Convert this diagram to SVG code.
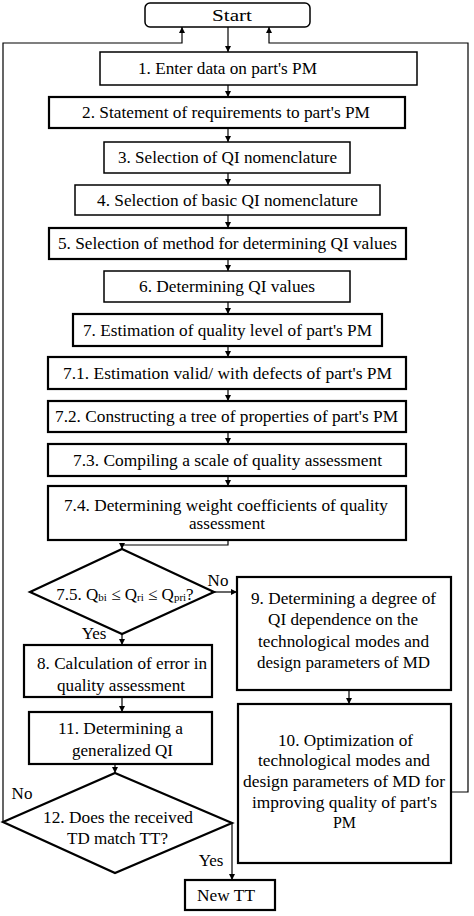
<svg xmlns="http://www.w3.org/2000/svg" width="474" height="916" viewBox="0 0 474 916">
<style>
.b{fill:#fff;stroke:#000;stroke-width:1.5}
.k{fill:#fff;stroke:#000;stroke-width:2.2}
.c{fill:none;stroke:#000;stroke-width:1.2}
text{font-family:'Liberation Serif','DejaVu Serif',serif;font-size:17px;fill:#000;text-anchor:middle;dominant-baseline:central}
.s{font-size:11px}
</style>
<defs>
<marker id="a" viewBox="0 0 8 8" refX="8" refY="4" markerWidth="6" markerHeight="6" orient="auto" markerUnits="userSpaceOnUse">
<path d="M0,0 L8,4 L0,8 z" fill="#000"/>
</marker>
</defs>
<rect width="474" height="916" fill="#fff"/>
<g id="connectors">
<path class="c" d="M228,27 V52" marker-end="url(#a)"/>
<path class="c" d="M3,822 V43 H182 V27" marker-end="url(#a)"/>
<path class="c" d="M451,792 H468 V43 H269 V27" marker-end="url(#a)"/>
<path class="c" d="M228,85 V97" marker-end="url(#a)"/>
<path class="c" d="M228,128 V142" marker-end="url(#a)"/>
<path class="c" d="M228,173 V185" marker-end="url(#a)"/>
<path class="c" d="M228,215 V228" marker-end="url(#a)"/>
<path class="c" d="M228,259 V271" marker-end="url(#a)"/>
<path class="c" d="M228,302 V314" marker-end="url(#a)"/>
<path class="c" d="M228,346 V357" marker-end="url(#a)"/>
<path class="c" d="M228,389 V401" marker-end="url(#a)"/>
<path class="c" d="M228,432 V444" marker-end="url(#a)"/>
<path class="c" d="M228,476 V486" marker-end="url(#a)"/>
<path class="c" d="M228,540 V545 H122 V549" marker-end="url(#a)"/>
<path class="c" d="M214,592 H237" marker-end="url(#a)"/>
<path class="c" d="M122,634 V645" marker-end="url(#a)"/>
<path class="c" d="M122,697 V712" marker-end="url(#a)"/>
<path class="c" d="M349,690 V704" marker-end="url(#a)"/>
<path class="c" d="M115,764 V773" marker-end="url(#a)"/>
<path class="c" d="M232,823 V880" marker-end="url(#a)"/>
<text x="218" y="580">No</text>
<text x="94" y="633">Yes</text>
<text x="22" y="793">No</text>
<text x="211" y="860">Yes</text>
</g>
<g id="start"><rect class="b" x="145" y="3" width="165" height="24" rx="5"/><text x="232" y="15" textLength="40" lengthAdjust="spacingAndGlyphs">Start</text></g>
<g id="n1"><rect class="b" x="100" y="52" width="317" height="33"/><text x="227.5" y="68.5" textLength="179" lengthAdjust="spacingAndGlyphs">1. Enter data on part's PM</text></g>
<g id="n2"><rect class="k" x="49" y="97" width="356" height="31"/><text x="226" y="112.5" textLength="288" lengthAdjust="spacingAndGlyphs">2. Statement of requirements to part's PM</text></g>
<g id="n3"><rect class="b" x="104" y="142" width="246" height="31"/><text x="227.5" y="157.5" textLength="219" lengthAdjust="spacingAndGlyphs">3. Selection of QI nomenclature</text></g>
<g id="n4"><rect class="b" x="75" y="185" width="305" height="30"/><text x="227.5" y="200" textLength="261" lengthAdjust="spacingAndGlyphs">4. Selection of basic QI nomenclature</text></g>
<g id="n5"><rect class="k" x="49" y="228" width="357" height="31"/><text x="227.5" y="243.5" textLength="339" lengthAdjust="spacingAndGlyphs">5. Selection of method for determining QI values</text></g>
<g id="n6"><rect class="b" x="104" y="271" width="246" height="31"/><text x="227" y="286.5" textLength="176" lengthAdjust="spacingAndGlyphs">6. Determining QI values</text></g>
<g id="n7"><rect class="k" x="73" y="314" width="309" height="32"/><text x="227.5" y="330" textLength="289" lengthAdjust="spacingAndGlyphs">7. Estimation of quality level of part's PM</text></g>
<g id="n71"><rect class="k" x="48" y="357" width="358" height="32"/><text x="227.5" y="373" textLength="329" lengthAdjust="spacingAndGlyphs">7.1. Estimation valid/ with defects of part's PM</text></g>
<g id="n72"><rect class="k" x="48" y="401" width="358" height="31"/><text x="226.5" y="416.5" textLength="343" lengthAdjust="spacingAndGlyphs">7.2. Constructing a tree of properties of part's PM</text></g>
<g id="n73"><rect class="k" x="48" y="444" width="358" height="32"/><text x="227.5" y="460" textLength="309" lengthAdjust="spacingAndGlyphs">7.3. Compiling a scale of quality assessment</text></g>
<g id="n74"><rect class="k" x="48" y="486" width="358" height="54"/><text x="226" y="505" textLength="324" lengthAdjust="spacingAndGlyphs">7.4. Determining weight coefficients of quality</text><text x="227" y="523" textLength="76" lengthAdjust="spacingAndGlyphs">assessment</text></g>
<g id="n75"><path class="k" d="M122,549 L214,592 L122,634 L30,592 Z"/><text x="125" y="594">7.5. Q<tspan class="s" dy="3">bi</tspan><tspan dy="-3"> ≤ Q</tspan><tspan class="s" dy="3">ri</tspan><tspan dy="-3"> ≤ Q</tspan><tspan class="s" dy="3">pri</tspan><tspan dy="-3">?</tspan></text></g>
<g id="n9"><rect class="k" x="237" y="577" width="214" height="113"/><text x="343.5" y="598" textLength="185" lengthAdjust="spacingAndGlyphs">9. Determining a degree of</text><text x="343" y="619" textLength="150" lengthAdjust="spacingAndGlyphs">QI dependence on the</text><text x="343.5" y="641" textLength="171" lengthAdjust="spacingAndGlyphs">technological modes and</text><text x="343.5" y="662" textLength="173" lengthAdjust="spacingAndGlyphs">design parameters of MD</text></g>
<g id="n8"><rect class="k" x="24" y="645" width="188" height="52"/><text x="122" y="663" textLength="170" lengthAdjust="spacingAndGlyphs">8. Calculation of error in</text><text x="121" y="685" textLength="128" lengthAdjust="spacingAndGlyphs">quality assessment</text></g>
<g id="n11"><rect class="k" x="29" y="712" width="183" height="52"/><text x="120.5" y="728" textLength="125" lengthAdjust="spacingAndGlyphs">11. Determining a</text><text x="122.5" y="750" textLength="101" lengthAdjust="spacingAndGlyphs">generalized QI</text></g>
<g id="n10"><rect class="k" x="238" y="704" width="213" height="159"/><text x="345.5" y="740" textLength="135" lengthAdjust="spacingAndGlyphs">10. Optimization of</text><text x="344" y="760" textLength="172" lengthAdjust="spacingAndGlyphs">technological modes and</text><text x="344" y="781" textLength="202" lengthAdjust="spacingAndGlyphs">design parameters of MD for</text><text x="344.5" y="802" textLength="185" lengthAdjust="spacingAndGlyphs">improving quality of part's</text><text x="344.5" y="822" textLength="23" lengthAdjust="spacingAndGlyphs">PM</text></g>
<g id="n12"><path class="k" d="M115,773 L232,823 L115,873 L3,822 Z"/><text x="118" y="817" textLength="150" lengthAdjust="spacingAndGlyphs">12. Does the received</text><text x="117.5" y="838" textLength="101" lengthAdjust="spacingAndGlyphs">TD match TT?</text></g>
<g id="newtt"><rect class="k" x="185" y="880" width="90" height="30"/><text x="226" y="895" textLength="58" lengthAdjust="spacingAndGlyphs">New TT</text></g>
</svg>
